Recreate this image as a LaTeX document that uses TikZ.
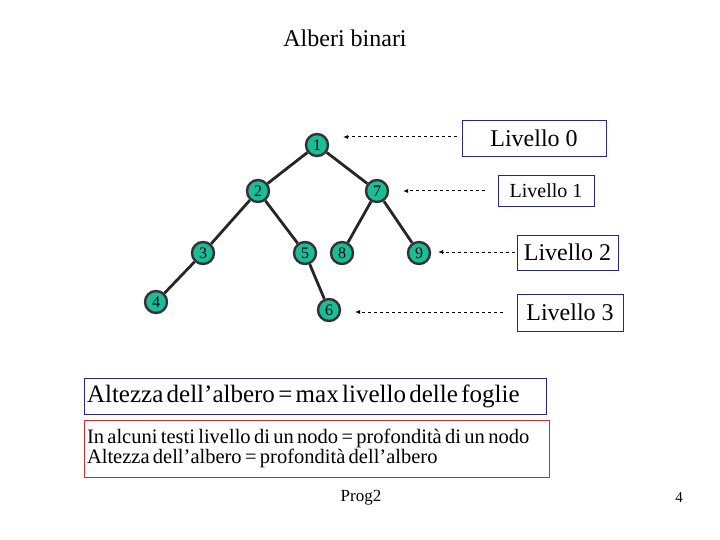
\documentclass[tikz,border=0pt]{standalone}
\usepackage{fontspec}
\setmainfont{Liberation Serif}
\usetikzlibrary{arrows.meta}
\definecolor{nodegreen}{RGB}{28,188,150}
\definecolor{boxblue}{RGB}{40,40,130}
\definecolor{boxred}{RGB}{190,50,50}
\begin{document}
\begin{tikzpicture}[x=1pt,y=-1pt,
  tn/.style={circle,draw=black!80,line width=2.4pt,fill=nodegreen,minimum size=22pt,inner sep=0pt,font=\fontsize{16}{16}\selectfont},
  edge/.style={line width=2.8pt,black!85},
  lbox/.style={draw=boxblue,line width=0.8pt,inner sep=0pt},
  darr/.style={dashed,line width=1pt,-{Latex[length=5pt,width=4pt]}},
]
\useasboundingbox (0,0) rectangle (720,540);
\node (t) at (345,38) {\fontsize{24}{24}\selectfont Alberi binari};
\node[tn] (n1) at (317,145) {1};
\node[tn] (n2) at (258,191) {2};
\node[tn] (n7) at (377,191) {7};
\node[tn] (n3) at (203,253) {3};
\node[tn] (n5) at (305,253) {5};
\node[tn] (n8) at (342,253) {8};
\node[tn] (n9) at (419,253) {9};
\node[tn] (n4) at (156,302) {4};
\node[tn] (n6) at (329,310) {6};
\draw[edge] (n1)--(n2); \draw[edge] (n1)--(n7);
\draw[edge] (n2)--(n3); \draw[edge] (n2)--(n5);
\draw[edge] (n7)--(n8); \draw[edge] (n7)--(n9);
\draw[edge] (n3)--(n4); \draw[edge] (n5)--(n6);
\node[lbox,minimum width=144pt,minimum height=36pt] (l0) at (534,138) {\fontsize{24}{24}\selectfont Livello 0};
\node[lbox,minimum width=96pt,minimum height=31pt] (l1) at (546,190.5) {\fontsize{20}{20}\selectfont Livello 1};
\node[lbox,minimum width=101pt,minimum height=35pt] (l2) at (567.5,252.5) {\fontsize{24}{24}\selectfont Livello 2};
\node[lbox,minimum width=106pt,minimum height=37pt] (l3) at (570,312.5) {\fontsize{24}{24}\selectfont Livello 3};
\coordinate (a0) at (457,137); \coordinate (b0) at (343,137);
\coordinate (a1) at (485,191); \coordinate (b1) at (403,191);
\coordinate (a2) at (515,252); \coordinate (b2) at (438,252);
\coordinate (a3) at (503,312); \coordinate (b3) at (355,312);
\draw[darr] (a0)--(b0); \draw[darr] (a1)--(b1);
\draw[darr] (a2)--(b2); \draw[darr] (a3)--(b3);
\node[lbox,minimum width=462pt,minimum height=36pt,text width=456pt,align=left] (h) at (315,396) {\fontsize{25}{25}\selectfont Altezza dell’albero = max livello delle foglie};
\node[draw=boxred,line width=0.8pt,minimum width=465pt,minimum height=57pt,text width=459pt,align=left,inner sep=0pt] (p) at (316.5,448.5) {\fontsize{20.5}{25}\selectfont In alcuni testi livello di un nodo = profondità di un nodo\\Altezza dell’albero = profondità dell’albero};
\node (pg) at (361,498) {\fontsize{17}{17}\selectfont Prog2};
\node (num) at (679,498) {\fontsize{15}{15}\selectfont 4};
\end{tikzpicture}
\end{document}
